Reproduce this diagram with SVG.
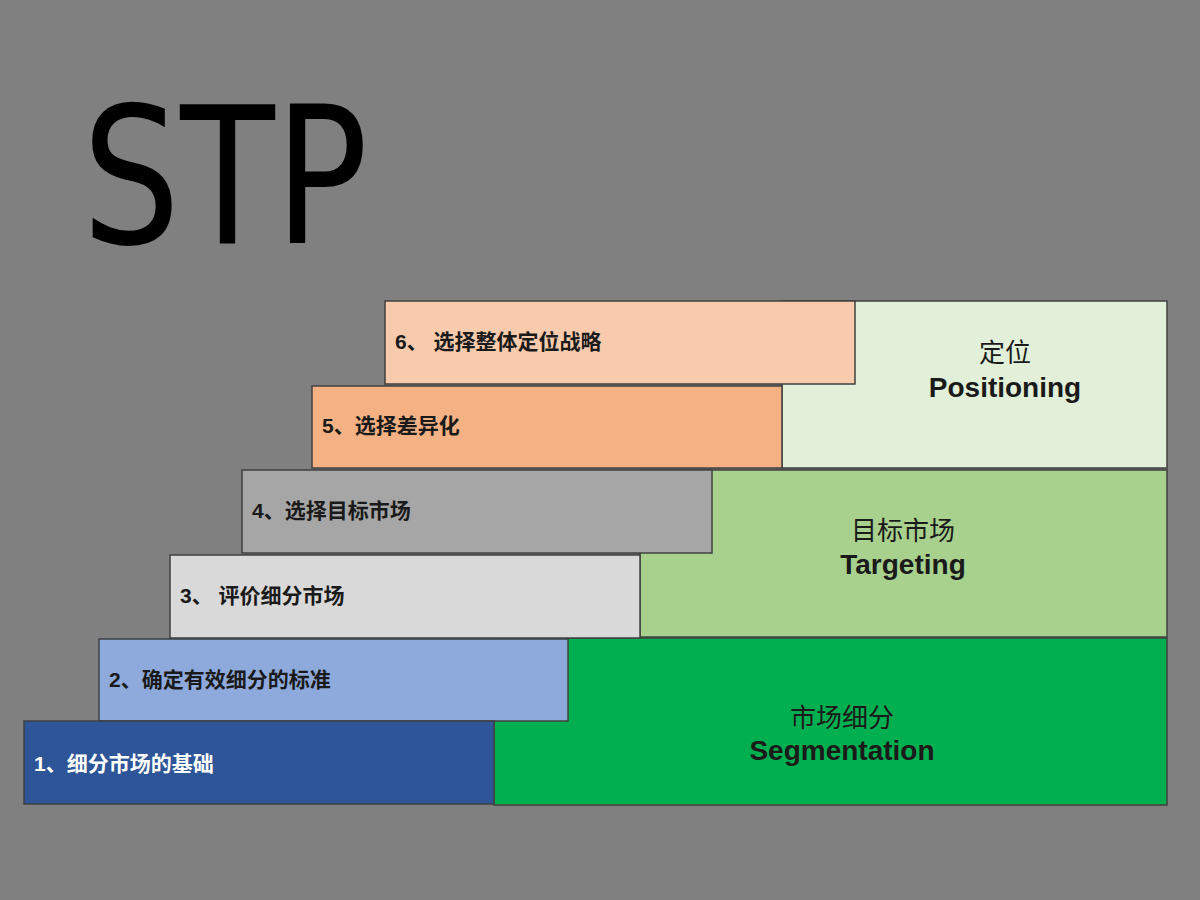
<svg xmlns="http://www.w3.org/2000/svg" width="1200" height="900" viewBox="0 0 1200 900">
<style>
.b{stroke:#404040;stroke-width:1.5}
.l{font-family:"Liberation Sans","Noto Sans CJK SC",sans-serif;font-size:21px;font-weight:bold;fill:#1a1a1a}
.cn{font-family:"Noto Sans CJK SC",sans-serif;font-size:26px;fill:#1a1a1a;text-anchor:middle}
.en{font-family:"Liberation Sans",sans-serif;font-size:28px;font-weight:bold;fill:#1a1a1a;text-anchor:middle}
</style>
<rect width="1200" height="900" fill="#808080"/>
<text x="82" y="243" font-family="DejaVu Sans,sans-serif" font-size="190" textLength="286" lengthAdjust="spacingAndGlyphs" fill="#000">STP</text>
<g id="positioning"><rect class="b" x="782" y="301" width="385" height="167" fill="#E2F0D9"/><text class="cn" x="1005" y="362">定位</text><text class="en" x="1005" y="397">Positioning</text></g>
<g id="targeting"><rect class="b" x="640" y="470" width="527" height="167" fill="#A9D18E"/><text class="cn" x="903" y="540">目标市场</text><text class="en" x="903" y="574">Targeting</text></g>
<g id="segmentation"><rect class="b" x="494" y="638" width="673" height="167" fill="#00B050"/><text class="cn" x="842" y="727">市场细分</text><text class="en" x="842" y="760">Segmentation</text></g>
<g id="s6"><rect class="b" x="385" y="301" width="470" height="83" fill="#F8CBAD"/><text class="l" x="395" y="349">6、 选择整体定位战略</text></g>
<g id="s5"><rect class="b" x="312" y="386" width="470" height="82" fill="#F4B183"/><text class="l" x="322" y="433">5、选择差异化</text></g>
<g id="s4"><rect class="b" x="242" y="470" width="470" height="83" fill="#A6A6A6"/><text class="l" x="252" y="518">4、选择目标市场</text></g>
<g id="s3"><rect class="b" x="170" y="555" width="470" height="83" fill="#D9D9D9"/><text class="l" x="180" y="603">3、  评价细分市场</text></g>
<g id="s2"><rect class="b" x="99" y="639" width="469" height="82" fill="#8EAADC"/><text class="l" x="109" y="687">2、确定有效细分的标准</text></g>
<g id="s1"><rect class="b" x="24" y="721" width="470" height="83" fill="#2E5597"/><text class="l" x="34" y="771" fill="#fff" style="fill:#fff">1、细分市场的基础</text></g>
<g id="connectors"/>
</svg>
